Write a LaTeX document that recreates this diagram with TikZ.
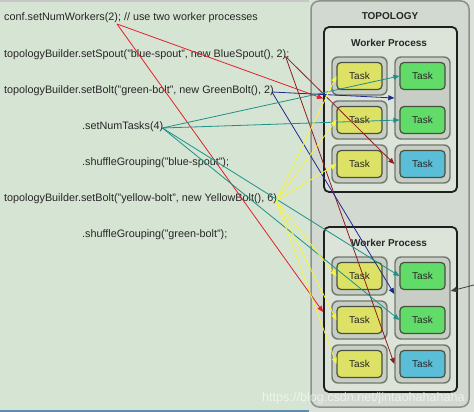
\documentclass[tikz,border=0pt]{standalone}
\usepackage{fontspec}
\setmainfont{Liberation Sans}
\usetikzlibrary{arrows.meta,calc}
\definecolor{bgc}{HTML}{DCE2DA}
\definecolor{panel}{HTML}{D6E4D3}
\definecolor{outerf}{HTML}{D2D9D0}
\definecolor{outerd}{HTML}{8A9288}
\definecolor{workf}{HTML}{DCE4DA}
\definecolor{grpf}{HTML}{C8CEC6}
\definecolor{grpd}{HTML}{6F786D}
\definecolor{tyel}{HTML}{DDE266}
\definecolor{tgrn}{HTML}{62DC68}
\definecolor{tblu}{HTML}{5ABED8}
\definecolor{tbrd}{HTML}{46523E}
\definecolor{cred}{HTML}{E4202A}
\definecolor{cbrn}{HTML}{8E1E1E}
\definecolor{cnavy}{HTML}{1E2A8C}
\definecolor{cteal}{HTML}{1E9088}
\definecolor{cyel}{HTML}{F6F63A}
\definecolor{strip}{HTML}{5B8DB0}
\tikzset{
  code/.style={anchor=west, inner sep=0pt, font=\fontsize{10.8}{12}\selectfont, text=black!85},
  title/.style={inner sep=0pt, font=\fontsize{10}{12}\selectfont\bfseries, text=black!85},
  outerbox/.style={draw=outerd, fill=outerf, line width=1.5pt, rounded corners=8pt},
  workbox/.style={draw=black!88, fill=workf, line width=1.8pt, rounded corners=5pt, minimum width=133pt, minimum height=165pt, inner sep=0pt},
  grpbox/.style={draw=grpd, fill=grpf, line width=1.4pt, rounded corners=6pt, minimum width=55pt, inner sep=0pt},
  taskbox/.style={draw=tbrd, line width=1.2pt, rounded corners=4pt, minimum width=45pt, minimum height=27pt, inner sep=0pt, font=\fontsize{10}{12}\selectfont, text=black!85},
  ytask/.style={taskbox, fill=tyel},
  gtask/.style={taskbox, fill=tgrn},
  btask/.style={taskbox, fill=tblu},
  conn/.style={line width=0.8pt, -{Triangle[length=6pt,width=5pt]}},
}
\begin{document}
\begin{tikzpicture}[x=1pt,y=-1pt]
\useasboundingbox (0,0) rectangle (474,412);
\fill[bgc] (0,0) rectangle (474,412);
\fill[panel] (0,0) rectangle (309,409);
\fill[black!22] (0,0) rectangle (309,2.5);
\fill[strip] (0,409.5) rectangle (309,412);
% topology box
\draw[outerbox] (311,1) rectangle (469,407);
\node[title] (topo) at (390,16) {TOPOLOGY};
% worker processes
\foreach \k/\dy in {1/0,2/200}{
  \node[workbox] (w\k) at (390.5,109.5+\dy) {};
  \node[title] (wt\k) at (389,43+\dy) {Worker Process};
  \node[grpbox, minimum height=38pt] (yg\k a) at (359.5,76+\dy) {};
  \node[grpbox, minimum height=38pt] (yg\k b) at (359.5,120+\dy) {};
  \node[grpbox, minimum height=38pt] (yg\k c) at (359.5,164+\dy) {};
  \node[grpbox, minimum height=82pt] (gg\k) at (422.5,98+\dy) {};
  \node[grpbox, minimum height=38pt] (bg\k) at (422.5,164+\dy) {};
  \node[ytask] (y\k a) at (359.5,76+\dy) {Task};
  \node[ytask] (y\k b) at (359.5,120+\dy) {Task};
  \node[ytask] (y\k c) at (359.5,164+\dy) {Task};
  \node[gtask] (g\k a) at (422.5,76+\dy) {Task};
  \node[gtask] (g\k b) at (422.5,120+\dy) {Task};
  \node[btask] (b\k) at (422.5,164+\dy) {Task};
}
% code text
\node[code] (t1) at (4,18) {conf.setNumWorkers(2); // use two worker processes};
\node[code] (t2) at (4,54.5) {topologyBuilder.setSpout("blue-spout", new BlueSpout(), 2);};
\node[code] (t3) at (4,91) {topologyBuilder.setBolt("green-bolt", new GreenBolt(), 2)};
\node[code] (t4) at (82,127) {.setNumTasks(4)};
\node[code] (t5) at (82,163) {.shuffleGrouping("blue-spout");};
\node[code] (t6) at (4,199) {topologyBuilder.setBolt("yellow-bolt", new YellowBolt(), 6)};
\node[code] (t7) at (82,235) {.shuffleGrouping("green-bolt");};
% connector origins
\coordinate (s1) at (117,24);
\coordinate (s2) at ($(t2.east)+(-4,2)$);
\coordinate (s3) at ($(t3.east)+(-2,1)$);
\coordinate (s4) at ($(t4.east)+(-1,1)$);
\coordinate (s6) at ($(t6.east)+(-1,2)$);
\coordinate (ext) at (474,285);
% red: workers
\draw[conn, cred] (s1) -- ([yshift=11pt]w1.west);
\draw[conn, cred] (s1) -- ([yshift=-2.5pt]w2.west);
% brown: spouts
\draw[conn, cbrn] (s2) -- (bg1.west);
\draw[conn, cbrn] (s2) -- (bg2.west);
% navy: green-bolt executors
\draw[conn, cnavy] (s3) -- (gg1.west);
\draw[conn, cnavy] (s3) -- ([yshift=4pt]gg2.west);
% teal: green tasks
\foreach \t in {g1a,g1b,g2a,g2b}{\draw[conn, cteal] (s4) -- (\t.west);}
% yellow: yellow tasks
\foreach \t in {y1a,y1b,y1c,y2a,y2b,y2c}{\draw[conn, cyel] (s6) -- (\t.west);}
% external arrow
\draw[conn, black!75] (ext) -- ([yshift=7pt]gg2.east);
% watermark
\node[anchor=west, inner sep=0pt, text=white, opacity=0.6, font=\fontsize{12.6}{14}\selectfont] (wm) at (262,398) {https://blog.csdn.net/jintaohahahaha};
\end{tikzpicture}
\end{document}
